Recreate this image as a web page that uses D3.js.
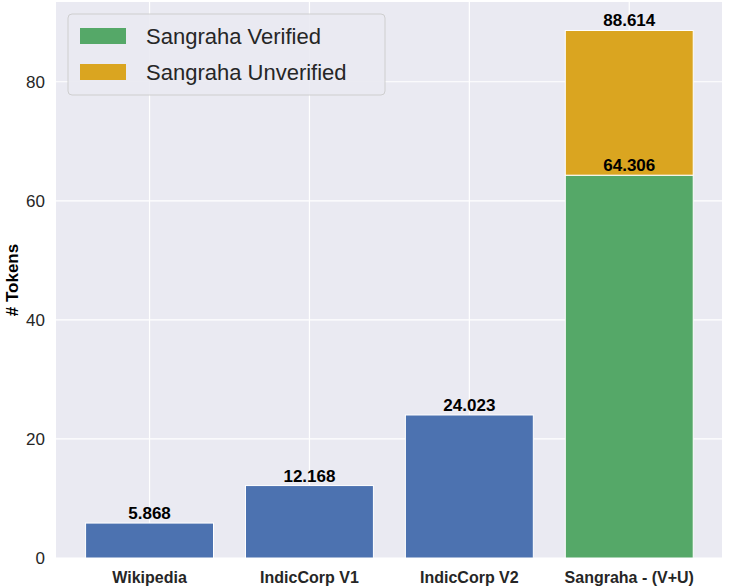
<!DOCTYPE html>
<html><head><meta charset="utf-8">
<script src="https://cdn.jsdelivr.net/npm/d3@7"></script>
<style>body{margin:0;background:#fff}text{font-family:Arial,"Liberation Sans",sans-serif}</style>
</head><body><div id="chart"></div>
<script>
var categories = ["Wikipedia", "IndicCorp V1", "IndicCorp V2", "Sangraha - (V+U)"];
var baseValues = [5.868, 12.168, 24.023, 64.306];
var unverifiedTotal = [null, null, null, 88.614];
var yTicks = [0, 20, 40, 60, 80];

var w = 729, h = 587;
var pLeft = 56, pRight = 722, pTop = 2, pBottom = 558;

var svg = d3.select("#chart").append("svg").attr("width", w).attr("height", h);

var x = d3.scaleLinear().domain([-0.585, 3.58]).range([pLeft, pRight]);
var y = d3.scaleLinear().domain([0, 93.4]).range([pBottom, pTop]);

svg.append("rect").attr("x", pLeft).attr("y", pTop).attr("width", pRight - pLeft).attr("height", pBottom - pTop).attr("fill", "#eaeaf2");

svg.selectAll(".hg").data(yTicks).enter().append("line")
  .attr("x1", pLeft).attr("x2", pRight).attr("y1", d => y(d)).attr("y2", d => y(d))
  .attr("stroke", "#fff").attr("stroke-width", 1.2);
svg.selectAll(".vg").data(categories).enter().append("line")
  .attr("x1", (d, i) => x(i)).attr("x2", (d, i) => x(i)).attr("y1", pTop).attr("y2", pBottom)
  .attr("stroke", "#fff").attr("stroke-width", 1.2);

var bw = x(0.4) - x(0);
svg.selectAll(".bar").data(baseValues).enter().append("rect")
  .attr("x", (d, i) => x(i) - bw).attr("width", 2 * bw)
  .attr("y", d => y(d)).attr("height", d => y(0) - y(d))
  .attr("fill", (d, i) => i === 3 ? "#55a868" : "#4c72b0")
  .attr("stroke", "#fff").attr("stroke-width", 1);

unverifiedTotal.forEach(function (d, i) {
  if (d === null) return;
  svg.append("rect").attr("x", x(i) - bw).attr("width", 2 * bw)
    .attr("y", y(d)).attr("height", y(baseValues[i]) - y(d))
    .attr("fill", "#daa520").attr("stroke", "#fff").attr("stroke-width", 1);
});

var labels = baseValues.map((v, i) => ({i: i, v: v}));
unverifiedTotal.forEach((v, i) => { if (v !== null) labels.push({i: i, v: v}); });
svg.selectAll(".lbl").data(labels).enter().append("text")
  .attr("x", d => x(d.i)).attr("y", d => y(d.v) - 4).attr("text-anchor", "middle")
  .attr("font-size", 17).attr("font-weight", "bold").text(d => d.v.toFixed(3));

svg.selectAll(".yt").data(yTicks).enter().append("text")
  .attr("x", 45).attr("y", d => y(d) + 6).attr("text-anchor", "end")
  .attr("font-size", 17).attr("fill", "#262626").text(d => d);

svg.selectAll(".xt").data(categories).enter().append("text")
  .attr("x", (d, i) => x(i)).attr("y", 583).attr("text-anchor", "middle")
  .attr("font-size", 16).attr("font-weight", "bold").attr("fill", "#262626").text(d => d);

svg.append("text").attr("transform", "translate(18," + ((pTop + pBottom) / 2) + ") rotate(-90)")
  .attr("text-anchor", "middle").attr("font-size", 17).attr("font-weight", "bold").text("# Tokens");

var lg = svg.append("g");
lg.append("rect").attr("x", 68).attr("y", 14).attr("width", 317).attr("height", 81).attr("rx", 4)
  .attr("fill", "#eaeaf2").attr("stroke", "#cccccc").attr("opacity", 0.9);
[["Sangraha Verified", "#55a868"], ["Sangraha Unverified", "#daa520"]].forEach(function (d, i) {
  lg.append("rect").attr("x", 80).attr("y", 28 + i * 36).attr("width", 46).attr("height", 16).attr("fill", d[1]);
  lg.append("text").attr("x", 146).attr("y", 44 + i * 36).attr("font-size", 22).attr("fill", "#262626").text(d[0]);
});
</script></body></html>
